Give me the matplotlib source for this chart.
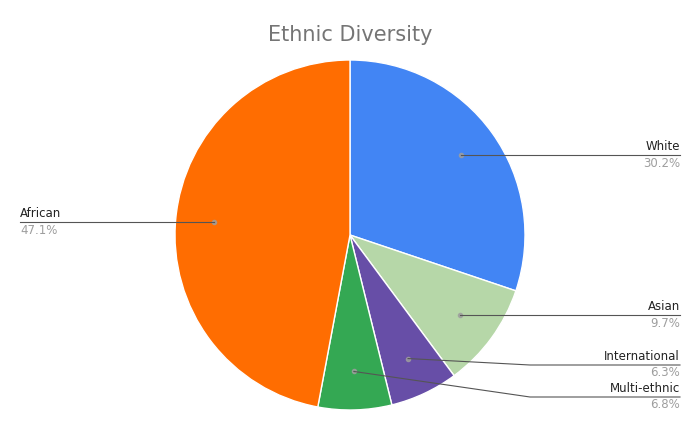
import numpy as np
import matplotlib.pyplot as plt

labels = ["White", "Asian", "International", "Multi-ethnic", "African"]
values = [30.2, 9.7, 6.3, 6.8, 47.1]
colors = ["#4285f4", "#b6d7a8", "#674ea7", "#34a853", "#ff6d01"]

W, H = 700, 433
cx, cy, R = 350, 235, 175

fig = plt.figure(figsize=(7, 4.33), dpi=100)
ax = fig.add_axes([(cx - R) / W, (H - cy - R) / H, 2 * R / W, 2 * R / H])
ax.pie(values, colors=colors, startangle=90, counterclock=False,
       wedgeprops=dict(linewidth=1, edgecolor="white"))
ax.set_xlim(-1, 1)
ax.set_ylim(-1, 1)
ax.set_aspect("equal")

# overlay in pixel coords for callouts
ov = fig.add_axes([0, 0, 1, 1])
ov.set_xlim(0, W)
ov.set_ylim(H, 0)
ov.axis("off")
ov.text(W / 2, 35, "Ethnic Diversity", ha="center", va="center",
        fontsize=15, color="#757575")

# label layout: (line y or None for straight, side)
layout = {
    "White": (None, "r"),
    "Asian": (None, "r"),
    "International": (365, "r"),
    "Multi-ethnic": (397, "r"),
    "African": (None, "l"),
}

total = sum(values)
start = 90.0
for lab, v in zip(labels, values):
    mid = np.radians(start - v / total * 360 / 2)
    start -= v / total * 360
    dx = cx + R * 0.78 * np.cos(mid)
    dy = cy - R * 0.78 * np.sin(mid)
    ly, side = layout[lab]
    ov.plot(dx, dy, "o", ms=3, color="#9e9e9e", alpha=0.8)
    if side == "r":
        if ly is None:
            ly = dy
            ov.plot([dx, 680], [ly, ly], color="#555555", lw=0.8)
        else:
            ov.plot([dx, 530, 680], [dy, ly, ly], color="#555555", lw=0.8)
        ov.text(680, ly - 9, lab, ha="right", va="center", fontsize=8.5, color="#222222")
        ov.text(680, ly + 8, f"{v}%", ha="right", va="center", fontsize=8.5, color="#9e9e9e")
    else:
        ly = dy
        ov.plot([dx, 20], [ly, ly], color="#555555", lw=0.8)
        ov.text(20, ly - 9, lab, ha="left", va="center", fontsize=8.5, color="#222222")
        ov.text(20, ly + 8, f"{v}%", ha="left", va="center", fontsize=8.5, color="#9e9e9e")

fig.savefig("out.png", dpi=100)
